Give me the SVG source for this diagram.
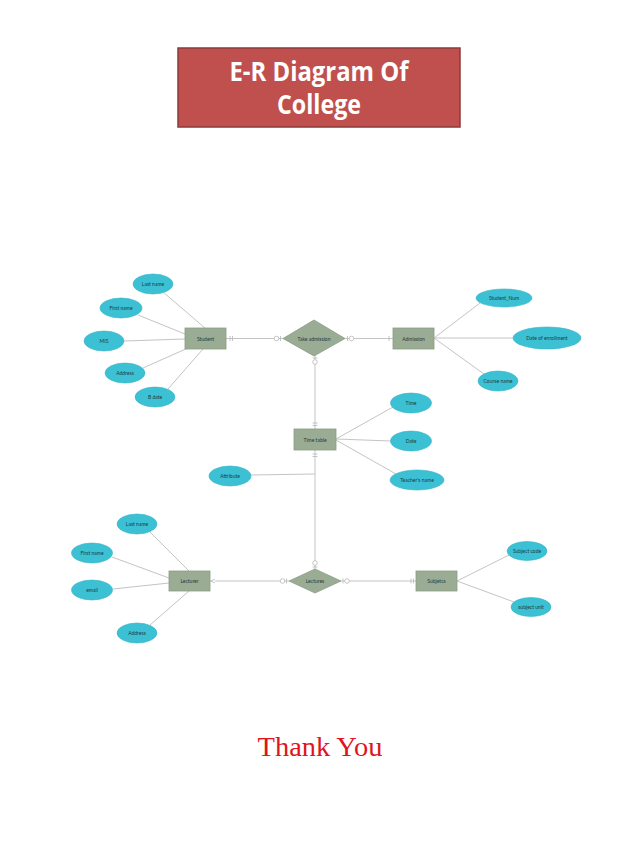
<svg xmlns="http://www.w3.org/2000/svg" width="638" height="851" viewBox="0 0 638 851">
<style>
.ent{fill:#9aac93;stroke:#8a9d84;stroke-width:0.8}
.rel{fill:#9aac93;stroke:#8a9d84;stroke-width:0.8}
.att{fill:#3cc0d4;stroke:#35b3c6;stroke-width:0.6}
.t{font-family:Lato,"Liberation Sans",sans-serif;font-size:5px;fill:#1e3a40;text-anchor:middle;dominant-baseline:central}
.c{stroke:#c4c4c4;stroke-width:1;fill:none}
.m{stroke:#b8b8b8;stroke-width:0.8;fill:#fff}
</style>
<rect width="638" height="851" fill="#fff"/>
<g id="title">
<rect x="178" y="48" width="282" height="79" fill="#c0504d" stroke="#8c3a38" stroke-width="1.5"/>
<text x="319" y="81" font-family="'Open Sans','Liberation Sans',sans-serif" font-weight="bold" font-size="26" fill="#fff" text-anchor="middle" textLength="179" lengthAdjust="spacingAndGlyphs">E-R Diagram Of</text>
<text x="319" y="114" font-family="'Open Sans','Liberation Sans',sans-serif" font-weight="bold" font-size="26" fill="#fff" text-anchor="middle" textLength="84" lengthAdjust="spacingAndGlyphs">College</text>
</g>
<g id="connectors">
<!-- student attrs -->
<line class="c" x1="163" y1="292" x2="205" y2="328"/>
<line class="c" x1="138" y1="315" x2="185" y2="334"/>
<line class="c" x1="124" y1="341" x2="185" y2="339"/>
<line class="c" x1="143" y1="368" x2="188" y2="348"/>
<line class="c" x1="168" y1="389" x2="203" y2="349"/>
<!-- admission attrs -->
<line class="c" x1="434" y1="338" x2="480" y2="303"/>
<line class="c" x1="434" y1="338" x2="513" y2="338"/>
<line class="c" x1="434" y1="338" x2="484" y2="374"/>
<!-- timetable attrs -->
<line class="c" x1="336" y1="439" x2="393" y2="407"/>
<line class="c" x1="336" y1="439" x2="391" y2="441"/>
<line class="c" x1="336" y1="440" x2="396" y2="474"/>
<line class="c" x1="251" y1="475" x2="315" y2="474"/>
<!-- lecturer attrs -->
<line class="c" x1="150" y1="532" x2="189" y2="571"/>
<line class="c" x1="112" y1="557" x2="169" y2="578"/>
<line class="c" x1="113" y1="589" x2="169" y2="583"/>
<line class="c" x1="150" y1="625" x2="189" y2="591"/>
<!-- subjects attrs -->
<line class="c" x1="457" y1="581" x2="509" y2="555"/>
<line class="c" x1="457" y1="581" x2="514" y2="602"/>
<!-- relationships -->
<line class="c" x1="226" y1="338.5" x2="283" y2="338.5"/>
<line class="c" x1="345" y1="338.5" x2="393" y2="338.5"/>
<line class="c" x1="315" y1="355" x2="315" y2="429"/>
<line class="c" x1="315" y1="450" x2="315" y2="570"/>
<line class="c" x1="210" y1="581" x2="289" y2="581"/>
<line class="c" x1="340" y1="581" x2="416" y2="581"/>
<!-- markers -->
<line class="m" x1="230" y1="336" x2="230" y2="341"/>
<line class="m" x1="232.5" y1="336" x2="232.5" y2="341"/>
<line class="m" x1="280.5" y1="336" x2="280.5" y2="341"/>
<circle class="m" cx="276.5" cy="338.5" r="2.3"/>
<line class="m" x1="347.5" y1="336" x2="347.5" y2="341"/>
<circle class="m" cx="351.5" cy="338.5" r="2.3"/>
<line class="m" x1="389" y1="336" x2="389" y2="341"/>
<line class="m" x1="312.5" y1="358" x2="317.5" y2="358"/>
<circle class="m" cx="315" cy="362" r="2.3"/>
<line class="m" x1="312.5" y1="423" x2="317.5" y2="423"/>
<line class="m" x1="312.5" y1="425.5" x2="317.5" y2="425.5"/>
<line class="m" x1="312.5" y1="454" x2="317.5" y2="454"/>
<line class="m" x1="312.5" y1="456.5" x2="317.5" y2="456.5"/>
<circle class="m" cx="315" cy="563" r="2.3"/>
<line class="m" x1="312.5" y1="567" x2="317.5" y2="567"/>
<circle class="m" cx="282.5" cy="581" r="2.3"/>
<line class="m" x1="286.5" y1="578.5" x2="286.5" y2="583.5"/>
<polyline class="m" fill="none" points="215,579 211,581 215,583"/>
<line class="m" x1="343" y1="578.5" x2="343" y2="583.5"/>
<circle class="m" cx="347" cy="581" r="2.3"/>
<line class="m" x1="411" y1="578.5" x2="411" y2="583.5"/>
<line class="m" x1="413.5" y1="578.5" x2="413.5" y2="583.5"/>
</g>
<g id="student"><rect class="ent" x="185" y="328" width="41" height="21"/><text class="t" x="205.5" y="338.5">Student</text></g>
<g id="student-lastname"><ellipse class="att" cx="153" cy="284" rx="20" ry="10"/><text class="t" x="153" y="284">Last name</text></g>
<g id="student-firstname"><ellipse class="att" cx="121" cy="308" rx="21" ry="10"/><text class="t" x="121" y="308">First name</text></g>
<g id="student-mis"><ellipse class="att" cx="104" cy="341" rx="20" ry="10"/><text class="t" x="104" y="341">MIS</text></g>
<g id="student-address"><ellipse class="att" cx="125" cy="373" rx="20" ry="10"/><text class="t" x="125" y="373">Address</text></g>
<g id="student-bdate"><ellipse class="att" cx="155" cy="397" rx="20" ry="10"/><text class="t" x="155" y="397">B date</text></g>
<g id="take-admission"><polygon class="rel" points="314,320 345,338.5 314,356 283,338.5"/><text class="t" x="314" y="338.5">Take admission</text></g>
<g id="admission"><rect class="ent" x="393" y="328" width="41" height="21"/><text class="t" x="413.5" y="338.5">Admission</text></g>
<g id="adm-studentnum"><ellipse class="att" cx="504" cy="298" rx="28" ry="9"/><text class="t" x="504" y="298">Student_Num</text></g>
<g id="adm-date"><ellipse class="att" cx="547" cy="338" rx="34" ry="11"/><text class="t" x="547" y="338">Date of enrollment</text></g>
<g id="adm-course"><ellipse class="att" cx="498" cy="381" rx="20" ry="10"/><text class="t" x="498" y="381">Course name</text></g>
<g id="timetable"><rect class="ent" x="294" y="429" width="42" height="21"/><text class="t" x="315" y="439.5">Time table</text></g>
<g id="tt-time"><ellipse class="att" cx="411" cy="403" rx="20.5" ry="10"/><text class="t" x="411" y="403">Time</text></g>
<g id="tt-date"><ellipse class="att" cx="411" cy="441" rx="20.5" ry="10"/><text class="t" x="411" y="441">Date</text></g>
<g id="tt-teacher"><ellipse class="att" cx="417" cy="480" rx="27" ry="10"/><text class="t" x="417" y="480">Teacher's name</text></g>
<g id="tt-attribute"><ellipse class="att" cx="230" cy="476" rx="21" ry="10"/><text class="t" x="230" y="476">Attribute</text></g>
<g id="lectures"><polygon class="rel" points="315,569 341,581 315,593 289,581"/><text class="t" x="315" y="581">Lectures</text></g>
<g id="lecturer"><rect class="ent" x="169" y="571" width="41" height="20"/><text class="t" x="189.5" y="581">Lecturer</text></g>
<g id="lec-lastname"><ellipse class="att" cx="137" cy="524" rx="20" ry="10"/><text class="t" x="137" y="524">Last name</text></g>
<g id="lec-firstname"><ellipse class="att" cx="92" cy="553" rx="20.5" ry="10"/><text class="t" x="92" y="553">First name</text></g>
<g id="lec-email"><ellipse class="att" cx="92" cy="590" rx="20.5" ry="10"/><text class="t" x="92" y="590">email</text></g>
<g id="lec-address"><ellipse class="att" cx="137" cy="633" rx="20" ry="10"/><text class="t" x="137" y="633">Address</text></g>
<g id="subjects"><rect class="ent" x="416" y="571" width="41" height="20"/><text class="t" x="436.5" y="581">Subjetcs</text></g>
<g id="sub-code"><ellipse class="att" cx="527" cy="551" rx="20" ry="9.5"/><text class="t" x="527" y="551">Subject code</text></g>
<g id="sub-unit"><ellipse class="att" cx="531" cy="607" rx="20" ry="9.5"/><text class="t" x="531" y="607">subject unit</text></g>
<g id="thankyou"><text x="320" y="756" font-family="'Liberation Serif',serif" font-size="28" fill="#e0141e" text-anchor="middle" textLength="125" lengthAdjust="spacingAndGlyphs">Thank You</text></g>
</svg>
